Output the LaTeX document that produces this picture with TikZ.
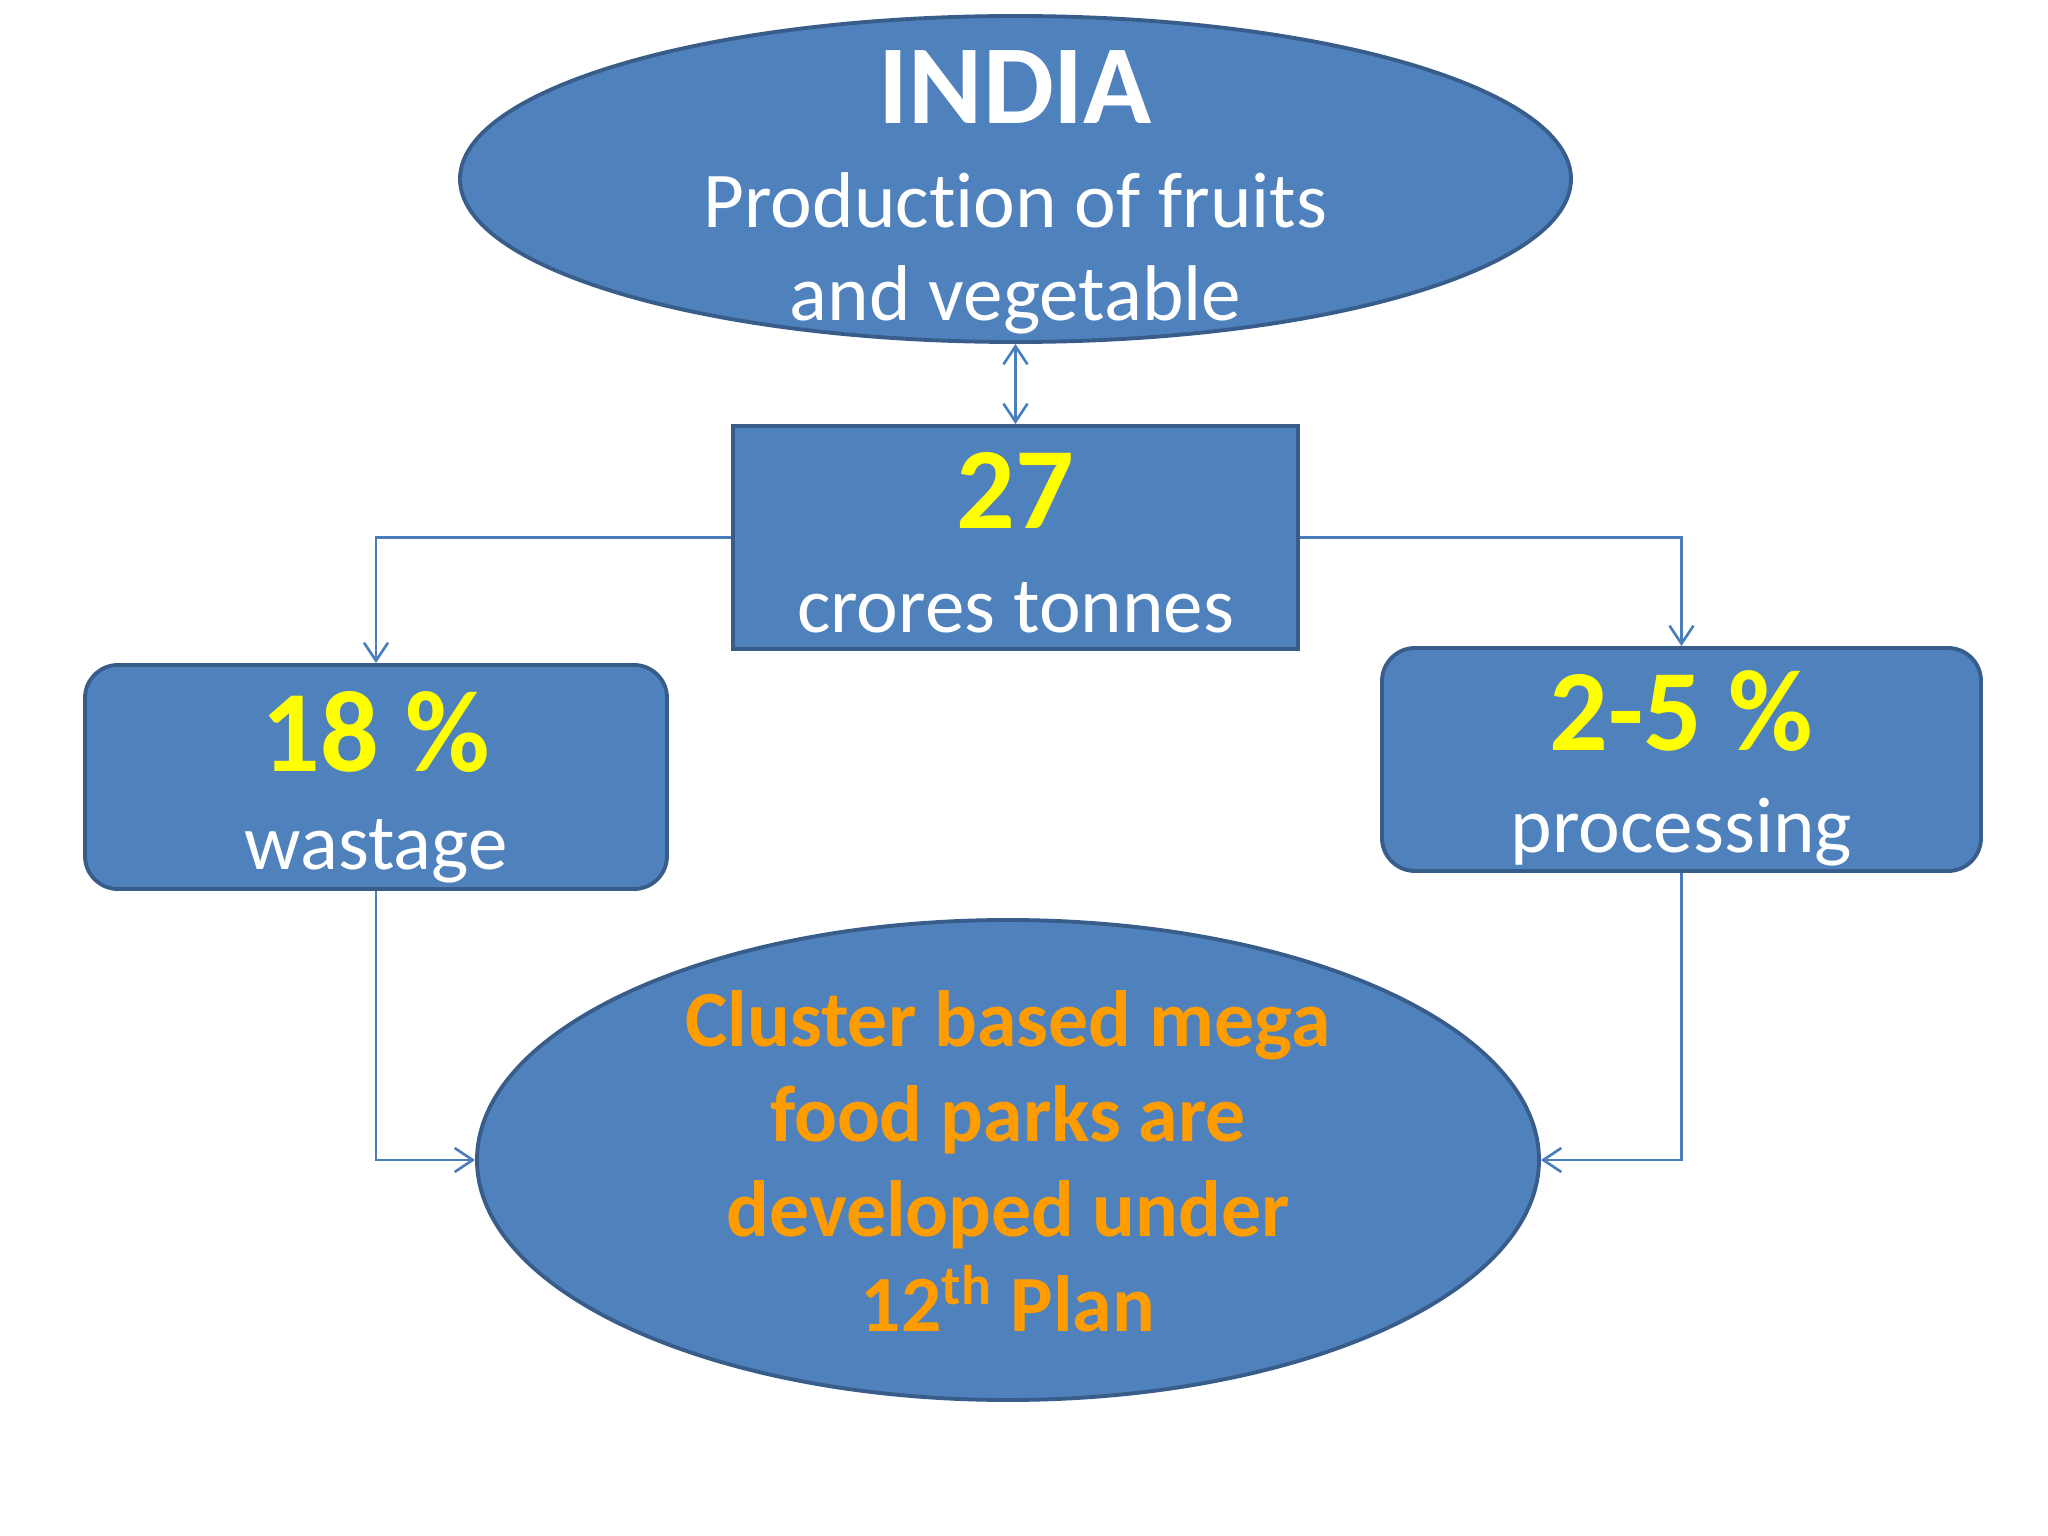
\documentclass[tikz,border=0pt]{standalone}
\usepackage{fontspec}
\setmainfont{Carlito}[Ligatures=NoCommon]
\usetikzlibrary{arrows.meta,positioning,shapes.geometric}
\definecolor{boxblue}{HTML}{4F81BD}
\definecolor{boxedge}{HTML}{385D8A}
\definecolor{linkblue}{HTML}{4A7EBB}
\definecolor{numyellow}{HTML}{FFFF00}
\definecolor{parkorange}{HTML}{FF9C00}

\begin{document}
\begin{tikzpicture}[x=1cm,y=-1cm,
oval/.style={ellipse, draw=boxedge, line width=1.1pt, fill=boxblue, inner sep=0pt},
card/.style={draw=boxedge, line width=1.1pt, fill=boxblue, inner sep=0pt},
roundcard/.style={card, rounded corners=0.33cm},
whitetxt/.style={text=white, font=\fontsize{22.5}{26.5}\selectfont, inner sep=0pt, anchor=base, align=center},
numtxt/.style={text=numyellow, font=\bfseries\fontsize{33}{40}\selectfont, inner sep=0pt, anchor=base},
parktxt/.style={text=parkorange, font=\bfseries\fontsize{22.7}{27}\selectfont, inner sep=0pt, anchor=base, align=center},
link/.style={linkblue, line width=0.75pt, >={Straight Barb[length=1.8mm,width=2.4mm]}, ->}
]
\useasboundingbox[fill=white] (0,0) rectangle (20.48,15.36);

% shapes
\node[oval, minimum width=11.11cm, minimum height=3.26cm] (india) at (10.155,1.79) {};
\node[card, minimum width=5.65cm, minimum height=2.23cm] (crore) at (10.155,5.375) {};
\node[roundcard, minimum width=5.82cm, minimum height=2.24cm] (waste) at (3.76,7.77) {};
\node[roundcard, minimum width=5.99cm, minimum height=2.23cm] (proc) at (16.815,7.595) {};
\node[oval, minimum width=10.62cm, minimum height=4.8cm] (park) at (10.08,11.6) {};

% texts (base = last line)
\node[whitetxt, font=\bfseries\fontsize{32}{38}\selectfont] (indiatxt) at (10.155,1.24) {INDIA};
\node[whitetxt] (prodtxt) at (10.155,3.21) {Production of fruits\\and vegetable};
\node[numtxt] (croretnum) at (10.155,5.29) {27};
\node[whitetxt] (crorettxt) at (10.155,6.33) {crores tonnes};
\node[numtxt] (wastenum) at (3.76,7.71) {18 \%};
\node[whitetxt] (wastetxt) at (3.76,8.69) {wastage};
\node[numtxt] (procnum) at (16.815,7.51) {2-5 \%};
\node[whitetxt] (proctxt) at (16.815,8.52) {processing};
\node[parktxt] (parktxt) at (10.08,13.31) {Cluster based mega\\food parks are\\developed under\\12\textsuperscript{th} Plan};

% connectors
\draw[link, <->] (india.south) -- (crore.north);
\draw[link] (crore.west) -| (waste.north);
\draw[link] (crore.east) -| (proc.north);
\draw[link] (waste.south) |- (park.west);
\draw[link] (proc.south) |- (park.east);
\end{tikzpicture}
\end{document}
